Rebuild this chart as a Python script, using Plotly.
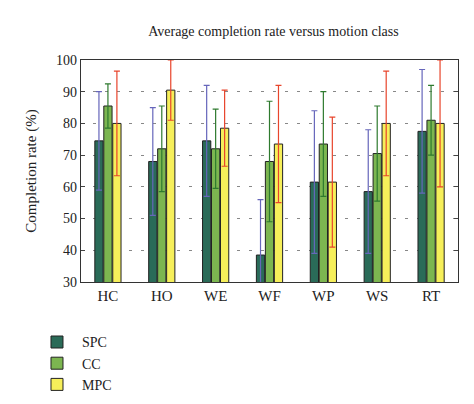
import plotly.graph_objects as go

cats = ["HC", "HO", "WE", "WF", "WP", "WS", "RT"]
spc = [74.5, 68, 74.5, 38.5, 61.5, 58.5, 77.5]
spc_err = [15.5, 17, 17.5, 17.5, 22.5, 19.5, 19.5]
cc = [85.5, 72, 72, 68, 73.5, 70.5, 81]
cc_err = [7, 13.5, 12.5, 19, 16.5, 15, 11]
mpc = [80, 90.5, 78.5, 73.5, 61.5, 80, 80]
mpc_err = [16.5, 9.5, 12, 18.5, 20.5, 16.5, 20]

fig = go.Figure()
for name, vals, errs, col, ecol in [
    ("SPC", spc, spc_err, "#2a6b58", "#6666bb"),
    ("CC", cc, cc_err, "#7cb650", "#2e7a2e"),
    ("MPC", mpc, mpc_err, "#f6ef5a", "#e8452c"),
]:
    fig.add_trace(go.Bar(name=name, x=cats, y=vals, marker=dict(color=col, line=dict(color="#222", width=1)),
                         error_y=dict(type="data", array=errs, color=ecol, thickness=1.2, width=3)))

fig.update_layout(
    width=474, height=404, barmode="group", bargap=0.5, bargroupgap=0.08,
    paper_bgcolor="white", plot_bgcolor="white",
    margin=dict(l=73, r=24, t=52, b=119),
    title=dict(text="Average completion rate versus motion class", x=0.56, y=0.955, xanchor="center",
               font=dict(family="Liberation Serif", size=14, color="#222")),
    font=dict(family="Liberation Serif", size=14, color="#222"),
    legend=dict(x=-0.13, y=-0.2, xanchor="left", yanchor="top", font=dict(size=14), tracegroupgap=2,
                itemwidth=40),
    showlegend=True,
)
fig.update_xaxes(showline=True, mirror=True, linecolor="#333", linewidth=1.3, ticks="", showgrid=False,
                 tickfont=dict(size=15))
fig.update_yaxes(range=[30, 100], dtick=10, showline=True, mirror="ticks", linecolor="#333", linewidth=1.3,
                 ticks="inside", ticklen=4, showgrid=True, gridcolor="#888", griddash="3px,9px", gridwidth=1,
                 title=dict(text="Completion rate (%)", font=dict(size=15)), tickfont=dict(size=14))
fig.write_html("out.html")
